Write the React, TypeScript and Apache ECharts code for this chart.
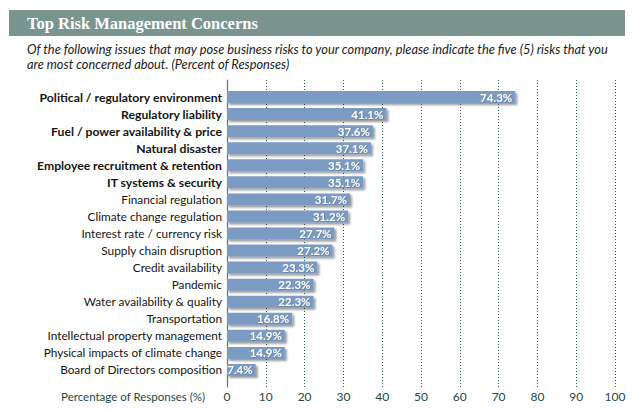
import React, { useEffect, useRef } from "react";
import * as echarts from "echarts";

const titleText = "Top Risk Management Concerns";
const subtitleLines = [
  "Of the following issues that may pose business risks to your company, please indicate the five (5) risks that you",
  "are most concerned about. (Percent of Responses)",
];
const categories = [
  "Political / regulatory environment",
  "Regulatory liability",
  "Fuel / power availability & price",
  "Natural disaster",
  "Employee recruitment & retention",
  "IT systems & security",
  "Financial regulation",
  "Climate change regulation",
  "Interest rate / currency risk",
  "Supply chain disruption",
  "Credit availability",
  "Pandemic",
  "Water availability & quality",
  "Transportation",
  "Intellectual property management",
  "Physical impacts of climate change",
  "Board of Directors composition",
];
const values = [74.3, 41.1, 37.6, 37.1, 35.1, 35.1, 31.7, 31.2, 27.7, 27.2, 23.3, 22.3, 22.3, 16.8, 14.9, 14.9, 7.4];
const boldCount = 6;
const xAxisName = "Percentage of Responses (%)";

export default function App() {
  const ref = useRef<HTMLDivElement>(null);
  useEffect(() => {
    if (!ref.current) return;
    const chart = echarts.init(ref.current, undefined, { renderer: "svg" });
    const cats = ["", ...categories, ""];
    const data = [null, ...values, null];
    chart.setOption({
      animation: false,
      backgroundColor: "#ffffff",
      grid: { left: 227, right: 20, top: 80, bottom: 27 },
      xAxis: {
        type: "value",
        min: 0,
        max: 100,
        interval: 10,
        axisLine: { show: false },
        axisTick: { show: false },
        axisLabel: { color: "#1d4a45", fontSize: 12, fontFamily: "Lato", margin: 3 },
        splitLine: { show: true, lineStyle: { color: "#2a5a50", type: [1, 2], width: 1 } },
      },
      yAxis: {
        type: "category",
        data: cats,
        inverse: true,
        boundaryGap: false,
        axisLine: { show: true, lineStyle: { color: "#5d7a72", width: 1.2 } },
        axisTick: { show: false },
        splitLine: { show: false },
        axisLabel: {
          margin: 5,
          interval: 0,
          formatter: (v: string, idx: number) => {
            if (!v) return "";
            return idx - 1 < boldCount ? `{b|${v}}` : `{n|${v}}`;
          },
          rich: {
            b: { fontFamily: "Lato", fontWeight: "bold", fontSize: 12.2, color: "#151515" },
            n: { fontFamily: "Lato", fontWeight: "normal", fontSize: 11.8, color: "#151515" },
          },
        },
      },
      series: [
        {
          type: "bar",
          data,
          barWidth: 12,
          itemStyle: {
            color: "#7b9bc3",
            shadowColor: "rgba(0,0,0,0.4)",
            shadowBlur: 2,
            shadowOffsetX: 2,
            shadowOffsetY: 2,
          },
          label: {
            show: true,
            position: "insideRight",
            distance: 3,
            formatter: (p: any) => (p.value == null ? "" : `${p.value.toFixed(1)}%`),
            color: "#ffffff",
            fontFamily: "Lato",
            fontWeight: "bold",
            fontSize: 11.5,
            textShadowColor: "rgba(40,60,90,0.45)",
            textShadowBlur: 1,
            textShadowOffsetX: 0.5,
            textShadowOffsetY: 0.5,
          },
        },
      ],
      graphic: [
        {
          type: "rect",
          shape: { x: 9, y: 10, width: 616, height: 26 },
          style: { fill: "#7a958f" },
          silent: true,
        },
        {
          type: "text",
          x: 27,
          y: 23,
          style: {
            text: titleText,
            fill: "#ffffff",
            font: "bold 16.5px 'Liberation Serif'",
            verticalAlign: "middle",
          },
        },
        {
          type: "text",
          x: 27,
          y: 49,
          style: {
            text: subtitleLines[0],
            fill: "#222222",
            font: "italic 12.8px Lato",
            verticalAlign: "middle",
          },
        },
        {
          type: "text",
          x: 27,
          y: 64,
          style: {
            text: subtitleLines[1],
            fill: "#222222",
            font: "italic 12.8px Lato",
            verticalAlign: "middle",
          },
        },
        {
          type: "text",
          x: 205,
          y: 396,
          style: {
            text: xAxisName,
            fill: "#1d4a45",
            font: "11.5px Lato",
            align: "right",
            verticalAlign: "middle",
          },
        },
      ],
    });
    return () => chart.dispose();
  }, []);
  return (
    <div
      ref={ref}
      style={{ position: "absolute", left: 0, top: 0, width: 635, height: 414 }}
    />
  );
}
